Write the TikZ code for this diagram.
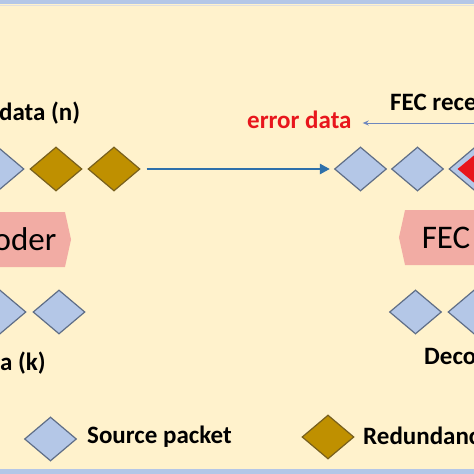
\documentclass[tikz,border=0pt]{standalone}
\usepackage{fontspec}
\setmainfont{Carlito}
\usetikzlibrary{arrows.meta,positioning,shapes.geometric,shapes.symbols}
\definecolor{bgcream}{RGB}{255,242,204}
\definecolor{bandblue}{RGB}{180,199,231}
\definecolor{srcfill}{RGB}{180,199,231}
\definecolor{srcline}{RGB}{95,110,135}
\definecolor{redfill}{RGB}{191,144,0}
\definecolor{redline}{RGB}{120,96,30}
\definecolor{codecpink}{RGB}{242,172,164}
\definecolor{linkblue}{RGB}{46,112,170}
\definecolor{fbblue}{RGB}{110,135,190}
\definecolor{errred}{RGB}{232,22,28}
\tikzset{
  pkt/.style={diamond, draw, line width=1.2pt, minimum width=52pt,
    minimum height=44pt, inner sep=0pt},
  srcpkt/.style={pkt, draw=srcline, fill=srcfill},
  redpkt/.style={pkt, draw=redline, fill=redfill},
  errpkt/.style={diamond, fill=errred, minimum width=35pt,
    minimum height=29pt, inner sep=0pt},
  codec/.style={signal, fill=codecpink, signal from=nowhere,
    signal pointer angle=155, minimum height=55pt, inner sep=0pt,
    font=\fontsize{33}{40}\selectfont},
  lbl/.style={inner sep=0pt, anchor=base west,
    font=\bfseries\fontsize{25}{30}\selectfont},
  linkarr/.style={-{Triangle[length=10pt,width=10pt]}, line width=2.6pt,
    linkblue, shorten <=6pt, shorten >=4pt},
  fbarr/.style={-{Stealth[length=6pt,width=5pt]}, line width=0.9pt, fbblue},
}

\begin{document}
\begin{tikzpicture}[x=1pt,y=-1pt]
  \useasboundingbox (0,0) rectangle (474,474);
  \clip (0,0) rectangle (474,474);
  % page and edge bands
  \fill[bgcream] (0,0) rectangle (474,474);
  \fill[bandblue] (0,0) rectangle (474,4);
  \draw[black!12, line width=1pt] (0,5) -- (474,5);
  \fill[bandblue] (0,469) rectangle (474,474);
  % encoder and decoder blocks
  \node[codec, signal to=east, minimum width=86pt] (enc) at (25,239.5) {oder};
  \node[codec, signal to=west, minimum width=88pt] (dec) at (446,237.5) {FEC};
  % sent packets
  \node[srcpkt] (tx1) at (-2,169) {};
  \node[redpkt] (tx2) at (56,169) {};
  \node[redpkt] (tx3) at (114,169) {};
  % received packets, the last one broken
  \foreach \x [count=\i] in {360.5,417.5,475}
    \node[srcpkt] (rx\i) at (\x,169) {};
  \node[errpkt] (bad) at (rx3) {};
  % source and decoded packets
  \foreach \x [count=\i] in {0,59}
    \node[srcpkt] (sk\i) at (\x,312) {};
  \foreach \x [count=\i] in {415.5,474}
    \node[srcpkt] (dk\i) at (\x,312) {};
  % labels
  \node[lbl] (encd) at (-1,120) {data (n)};
  \node[lbl, errred] (err) at (247,128) {error data};
  \node[lbl] (rxl) at (390,110) {FEC rece};
  \node[lbl] (srcd) at (0,370) {a (k)};
  \node[lbl] (decd) at (424,364) {Deco};
  % channel and feedback
  \draw[linkarr] (tx3) -- (rx1);
  \coordinate (fbin) at (490,123);
  \draw[fbarr, shorten >=11pt] (fbin) -- (err.east |- fbin);
  % legend
  \node[srcpkt] (lgs) at (50.5,439) {};
  \node[lbl] (lgst) at (87,443) {Source packet};
  \node[redpkt] (lgr) at (328,437) {};
  \node[lbl] (lgrt) at (363,444) {Redundanc};
\end{tikzpicture}
\end{document}
